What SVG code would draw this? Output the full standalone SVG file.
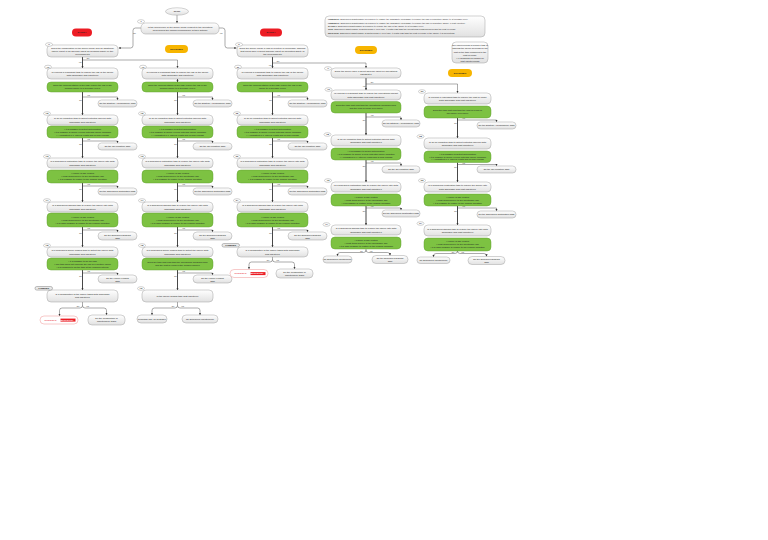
<svg xmlns="http://www.w3.org/2000/svg" width="768" height="540" viewBox="0 0 768 540">
<defs>
<linearGradient id="gb" x1="0" y1="0" x2="0" y2="1"><stop offset="0" stop-color="#ffffff"/><stop offset="1" stop-color="#e1e1e1"/></linearGradient>
<marker id="ah" viewBox="0 0 10 10" refX="10" refY="5" markerWidth="2.2" markerHeight="2.2" markerUnits="userSpaceOnUse" orient="auto"><path d="M0,0L10,5L0,10z" fill="#333"/></marker>
<style>
.box{fill:url(#gb);stroke:#9a9a9a;stroke-width:.45}
.grn{fill:#7dc242;stroke:#5d9c2c;stroke-width:.45}
.lab{fill:#fff;stroke:#8a8a8a;stroke-width:.4}
.rtag{fill:#ec1c24}
.otag{fill:#f7b500}
.rch{fill:#fff;stroke:#e88;stroke-width:.45}
text{font-family:"Liberation Sans",Arial,sans-serif;fill:#222;text-anchor:middle}
.t{font-size:2.4px}
.g{font-size:2.3px}
.s{font-size:2.3px}
.l{font-size:2px;font-weight:bold}
.tg{font-size:2.3px;font-weight:bold}
.yn{font-size:1.9px;fill:#333}
.lg{font-size:2.25px;text-anchor:start}
.rt{fill:#e8141b}
.main{fill:none;stroke:#333;stroke-width:.9;marker-end:url(#ah)}
.br{fill:none;stroke:#444;stroke-width:.45;marker-end:url(#ah)}
</style>
</defs>
<rect width="768" height="540" fill="#fff"/>

<g id="connectors">
<path class="br" d="M177,15 V23"/>
<path class="br" d="M141,28 H135.5 Q133,28 133,30.5 V45.5 Q133,48 130.5,48 H118.5"/>
<path class="br" d="M219,28 H222.5 Q225,28 225,30.5 V45.5 Q225,48 227.5,48 H236.5"/>
<path class="main" d="M82.5,57 V68"/>
<path class="br" d="M82.5,60 H177.5 V68"/>
<path class="main" d="M272.5,57 V68"/>
<path class="br" d="M272.5,63 H366 V68"/>
<path class="main" d="M366,78 V90"/>
<path class="br" d="M366,84 H457.5 V93"/>
<!-- col1 -->
<path class="main" d="M82.5,92 V115"/><path class="br" d="M82.5,97 H117.5 V100"/>
<path class="main" d="M82.5,138 V158"/><path class="br" d="M82.5,141 H117.5 V143"/>
<path class="main" d="M82.5,183 V202"/><path class="br" d="M82.5,186 H117.5 V188"/>
<path class="main" d="M82.5,227 V247"/><path class="br" d="M82.5,230 H117.5 V232"/>
<path class="main" d="M82.5,270 V290"/><path class="br" d="M82.5,273 H117.5 V275"/>
<path class="br" d="M82.5,302 V305.5 Q82.5,308 80,308 H62 Q59.5,308 59.5,310.5 V316"/>
<path class="br" d="M82.5,305.5 Q82.5,308 85,308 H104 Q106.5,308 106.5,310.5 V315"/>
<!-- col2 -->
<path class="main" d="M177.5,79 V82"/>
<path class="main" d="M177.5,92 V115"/><path class="br" d="M177.5,97 H212.5 V100"/>
<path class="main" d="M177.5,138 V158"/><path class="br" d="M177.5,141 H212.5 V143"/>
<path class="main" d="M177.5,183 V202"/><path class="br" d="M177.5,186 H212.5 V188"/>
<path class="main" d="M177.5,227 V247"/><path class="br" d="M177.5,230 H212.5 V232"/>
<path class="main" d="M177.5,270 V290"/><path class="br" d="M177.5,273 H212.5 V275"/>
<path class="br" d="M177.5,302 V305.5 Q177.5,308 175,308 H154.5 Q152,308 152,310.5 V315"/>
<path class="br" d="M177.5,305.5 Q177.5,308 180,308 H197.5 Q200,308 200,310.5 V315"/>
<!-- col3 -->
<path class="main" d="M272.5,92 V115"/><path class="br" d="M272.5,97 H307.5 V100"/>
<path class="main" d="M272.5,138 V158"/><path class="br" d="M272.5,141 H307.5 V143"/>
<path class="main" d="M272.5,183 V202"/><path class="br" d="M272.5,186 H307.5 V188"/>
<path class="main" d="M272.5,227 V247"/><path class="br" d="M272.5,230 H307.5 V232"/>
<path class="br" d="M272.5,257 V259.5 Q272.5,262 270,262 H251.5 Q249,262 249,264.5 V269"/>
<path class="br" d="M272.5,259.5 Q272.5,262 275,262 H292 Q294.5,262 294.5,264.5 V269"/>
<!-- col4 -->
<path class="main" d="M366,113 V135"/><path class="br" d="M366,117 H401 V120"/>
<path class="main" d="M366,160 V182"/><path class="br" d="M366,163 H401 V166"/>
<path class="main" d="M366,206 V225"/><path class="br" d="M366,208 H401 V210"/>
<path class="br" d="M366,249 V250 Q366,252.5 363.5,252.5 H340 Q337.5,252.5 337.5,255 V256"/>
<path class="br" d="M366,250 Q366,252.5 368.5,252.5 H387.5 Q390,252.5 390,255 V255.5"/>
<!-- col5 -->
<path class="main" d="M457.5,118 V138"/><path class="br" d="M457.5,120 H496.5 V122"/>
<path class="main" d="M457.5,162.5 V182"/><path class="br" d="M457.5,164.5 H496.5 V166"/>
<path class="main" d="M457.5,206 V225"/><path class="br" d="M457.5,208 H496.5 V211"/>
<path class="br" d="M457.5,251 Q457.5,253.5 455,253.5 H436 Q433.5,253.5 433.5,256 V257"/>
<path class="br" d="M457.5,251 Q457.5,253.5 460,253.5 H484 Q486.5,253.5 486.5,256 V256.5"/>
</g>

<g id="branch-labels">
<text class="yn" x="134.5" y="34">No</text><text class="yn" x="221" y="34">Yes</text>
<text class="yn" x="80" y="63" text-anchor="end">Yes</text><text class="yn" x="88" y="59.3">No</text>
<text class="yn" x="270" y="66" text-anchor="end">Yes</text><text class="yn" x="278" y="62.3">No</text>
<text class="yn" x="364" y="87" text-anchor="end">Yes</text><text class="yn" x="372" y="83.3">No</text>
<g id="yn-c1">
<text class="yn" x="80.5" y="100.5" text-anchor="end">No</text><text class="yn" x="88.5" y="96.3">Yes</text>
<text class="yn" x="80.5" y="144.5" text-anchor="end">No</text><text class="yn" x="88.5" y="140.3">Yes</text>
<text class="yn" x="80.5" y="189.5" text-anchor="end">No</text><text class="yn" x="88.5" y="185.3">Yes</text>
<text class="yn" x="80.5" y="233.5" text-anchor="end">No</text><text class="yn" x="88.5" y="229.3">Yes</text>
<text class="yn" x="80.5" y="276.5" text-anchor="end">No</text><text class="yn" x="88.5" y="272.3">Yes</text>
<text class="yn" x="78" y="307.3">No</text><text class="yn" x="87.5" y="307.3">Yes</text>
</g>
<g id="yn-c2">
<text class="yn" x="175.5" y="100.5" text-anchor="end">No</text><text class="yn" x="183.5" y="96.3">Yes</text>
<text class="yn" x="175.5" y="144.5" text-anchor="end">No</text><text class="yn" x="183.5" y="140.3">Yes</text>
<text class="yn" x="175.5" y="189.5" text-anchor="end">No</text><text class="yn" x="183.5" y="185.3">Yes</text>
<text class="yn" x="175.5" y="233.5" text-anchor="end">No</text><text class="yn" x="183.5" y="229.3">Yes</text>
<text class="yn" x="175.5" y="276.5" text-anchor="end">No</text><text class="yn" x="183.5" y="272.3">Yes</text>
<text class="yn" x="173" y="307.3">No</text><text class="yn" x="182.5" y="307.3">Yes</text>
</g>
<g id="yn-c3">
<text class="yn" x="270.5" y="100.5" text-anchor="end">No</text><text class="yn" x="278.5" y="96.3">Yes</text>
<text class="yn" x="270.5" y="144.5" text-anchor="end">No</text><text class="yn" x="278.5" y="140.3">Yes</text>
<text class="yn" x="270.5" y="189.5" text-anchor="end">No</text><text class="yn" x="278.5" y="185.3">Yes</text>
<text class="yn" x="270.5" y="233.5" text-anchor="end">No</text><text class="yn" x="278.5" y="229.3">Yes</text>
<text class="yn" x="268" y="261.3">No</text><text class="yn" x="277.5" y="261.3">Yes</text>
</g>
<g id="yn-c4">
<text class="yn" x="364" y="120.5" text-anchor="end">No</text><text class="yn" x="372" y="116.3">Yes</text>
<text class="yn" x="364" y="166.5" text-anchor="end">No</text><text class="yn" x="372" y="162.3">Yes</text>
<text class="yn" x="364" y="211.5" text-anchor="end">No</text><text class="yn" x="372" y="207.3">Yes</text>
<text class="yn" x="361.5" y="251.8">No</text><text class="yn" x="371" y="251.8">Yes</text>
</g>
<g id="yn-c5">
<text class="yn" x="455.5" y="123.5" text-anchor="end">No</text><text class="yn" x="463.5" y="119.3">Yes</text>
<text class="yn" x="455.5" y="168" text-anchor="end">No</text><text class="yn" x="463.5" y="163.8">Yes</text>
<text class="yn" x="455.5" y="211.5" text-anchor="end">No</text><text class="yn" x="463.5" y="207.3">Yes</text>
<text class="yn" x="453" y="252.8">No</text><text class="yn" x="462.5" y="252.8">Yes</text>
</g>
</g>

<!-- top -->
<g id="start"><ellipse class="box" cx="177" cy="11.5" rx="11.5" ry="3.7"/><text class="l" x="177" y="12.3">START</text></g>
<g id="q1"><rect class="box" x="141" y="23" width="78" height="11" rx="4.5"/><ellipse class="lab" cx="141" cy="21.5" rx="3.5" ry="1.8"/><text class="l" x="141" y="22.2">1</text>
<text class="t" x="180" y="27.6">Is the occurrence of the failure mode evident to the operating</text><text class="t" x="180" y="30.8">crew during the normal performance of their duties?</text></g>

<g id="legend"><rect class="box" x="325" y="16" width="160" height="21" rx="4"/>
<text class="lg" x="328" y="20.3"><tspan font-weight="bold">HIDDEN-S:</tspan> Scheduled maintenance is required to ensure the availability necessary to reduce the risk of a multiple failure to a tolerable level.</text>
<text class="lg" x="328" y="23.6"><tspan font-weight="bold">HIDDEN-O:</tspan> Scheduled maintenance is required to ensure the availability necessary to reduce the risk of a multiple failure, if cost-effective.</text>
<text class="lg" x="328" y="26.9"><tspan font-weight="bold">SAFETY:</tspan> Scheduled maintenance is required to reduce the risk of the failure to a tolerable level.</text>
<text class="lg" x="328" y="30.2"><tspan font-weight="bold">OPS:</tspan> Scheduled maintenance is worth doing if, over time, it costs less than the operational consequences and the cost of repair.</text>
<text class="lg" x="328" y="33.5"><tspan font-weight="bold">NON-OPS:</tspan> Scheduled maintenance is worth doing if, over time, it costs less than the cost of repair of the failure it is preventing.</text>
</g>

<g id="tags">
<rect class="rtag" x="72" y="28.5" width="20" height="8" rx="4"/><text class="tg" x="82" y="33.3">SAFETY</text>
<rect class="otag" x="165" y="45" width="23" height="8" rx="4"/><text class="tg" x="176.5" y="49.8">ECONOMIC</text>
<rect class="rtag" x="260" y="28.5" width="22" height="8" rx="4"/><text class="tg" x="271" y="33.3">SAFETY</text>
<rect class="otag" x="355" y="46" width="22" height="8" rx="4"/><text class="tg" x="366" y="50.8">ECONOMIC</text>
<rect class="otag" x="448" y="69" width="24" height="8" rx="4"/><text class="tg" x="460" y="73.8">ECONOMIC</text>
</g>

<g id="note"><rect class="box" x="452" y="42" width="36" height="21" rx="4"/>
<text class="s" x="470" y="46.3">The effectiveness of doing a task to</text>
<text class="s" x="470" y="49.4">address the failure depends on the</text>
<text class="s" x="470" y="52.5">cost of the task compared to the</text>
<text class="s" x="470" y="55.6">cost of repair.</text>
<text class="s" x="470" y="58.7">(All decisions are based on</text>
<text class="s" x="470" y="61.6">cost-effectiveness)</text>
</g>

<g id="node-H"><rect class="box" x="47" y="45" width="71" height="12" rx="4"/><ellipse class="lab" cx="49" cy="44.5" rx="3.5" ry="1.8"/><text class="l" x="49" y="45.2">H</text>
<text class="t" x="82.5" y="48.8">Does the combination of the failure mode and an additional</text><text class="t" x="82.5" y="51.8">failure result in an adverse effect on personal safety or the</text><text class="t" x="82.5" y="54.8">environment?</text></g>

<g id="node-S"><rect class="box" x="237" y="45" width="71" height="12" rx="4"/><ellipse class="lab" cx="239" cy="44.5" rx="3.5" ry="1.8"/><text class="l" x="239" y="45.2">S</text>
<text class="t" x="272.5" y="48.8">Does the failure cause a loss of function or secondary damage</text><text class="t" x="272.5" y="51.8">that could have a direct adverse effect on operating safety or</text><text class="t" x="272.5" y="54.8">the environment?</text></g>

<g id="node-O"><rect class="box" x="331" y="68" width="70" height="10" rx="4"/><ellipse class="lab" cx="328" cy="68.5" rx="3.5" ry="1.8"/><text class="l" x="328" y="69.2">O</text>
<text class="t" x="366" y="72.2">Does the failure have a direct adverse effect on operational</text><text class="t" x="366" y="75.4">capability?</text></g>

<!-- ===== Column 1 (hidden, safety) ===== -->
<g id="H1"><rect class="box" x="47" y="68" width="71" height="11" rx="4"/><ellipse class="lab" cx="48" cy="67" rx="3.5" ry="1.8"/><text class="l" x="48" y="67.7">H1</text>
<text class="t" x="82.5" y="72.6">Is running a redundant task to reduce the risk of the failure</text><text class="t" x="82.5" y="75.8">both applicable and effective?</text>
<rect class="grn" x="47" y="82" width="71" height="10" rx="4"/><text class="g" x="82.5" y="86.2">Does the implementation of the task reduce the risk of the</text><text class="g" x="82.5" y="89.4">multiple failure to a tolerable level?</text></g>
<g id="H1-do"><rect class="box" x="98" y="100" width="39" height="7" rx="3.5"/><text class="s" x="117.5" y="104.3">Do the Strategy / Redundancy Task</text></g>
<g id="H2"><rect class="box" x="47" y="115" width="71" height="10" rx="4"/><ellipse class="lab" cx="47" cy="113.5" rx="3.5" ry="1.8"/><text class="l" x="47" y="114.2">H2</text>
<text class="t" x="82.5" y="119.3">Is an on-condition task to detect potential failures both</text><text class="t" x="82.5" y="122.5">applicable and effective?</text>
<rect class="grn" x="47" y="126" width="71" height="12" rx="4"/><text class="g" x="82.5" y="129.7">* It is possible to detect deterioration</text><text class="g" x="82.5" y="132.6">* It is possible to define a clear potential failure condition</text><text class="g" x="82.5" y="135.5">* A consistent P-F interval exists and is long enough</text></g>
<g id="H2-do"><rect class="box" x="98" y="143" width="39" height="7" rx="3.5"/><text class="s" x="117.5" y="147.3">Do the On-condition Task</text></g>
<g id="H3"><rect class="box" x="47" y="158" width="71" height="10" rx="4"/><ellipse class="lab" cx="47" cy="156.5" rx="3.5" ry="1.8"/><text class="l" x="47" y="157.2">H3</text>
<text class="t" x="82.5" y="162.3">Is a scheduled restoration task to reduce the failure rate both</text><text class="t" x="82.5" y="165.5">applicable and effective?</text>
<rect class="grn" x="47" y="170" width="71" height="13" rx="4"/><text class="g" x="82.5" y="174.2">* Failure is age related</text><text class="g" x="82.5" y="177.2">* Most items survive to the identifiable age</text><text class="g" x="82.5" y="180.2">* It is possible to restore to the original condition</text></g>
<g id="H3-do"><rect class="box" x="98" y="188" width="39" height="7" rx="3.5"/><text class="s" x="117.5" y="192.3">Do the Scheduled Restoration Task</text></g>
<g id="H4"><rect class="box" x="47" y="202" width="71" height="10" rx="4"/><ellipse class="lab" cx="47" cy="200.5" rx="3.5" ry="1.8"/><text class="l" x="47" y="201.2">H4</text>
<text class="t" x="82.5" y="206.3">Is a scheduled discard task to reduce the failure rate both</text><text class="t" x="82.5" y="209.5">applicable and effective?</text>
<rect class="grn" x="47" y="213" width="71" height="14" rx="4"/><text class="g" x="82.5" y="217.6">* Failure is age related</text><text class="g" x="82.5" y="220.6">* Most items survive to the identifiable age</text><text class="g" x="82.5" y="223.6">* It is NOT possible to restore to the original condition</text></g>
<g id="H4-do"><rect class="box" x="98" y="232" width="39" height="8" rx="4"/><text class="s" x="117.5" y="235.6">Do the Scheduled Discard</text><text class="s" x="117.5" y="238.6">Task</text></g>
<g id="H5"><rect class="box" x="47" y="247" width="71" height="10" rx="4"/><ellipse class="lab" cx="47" cy="245.5" rx="3.5" ry="1.8"/><text class="l" x="47" y="246.2">H5</text>
<text class="t" x="82.5" y="251.3">Is a scheduled failure-finding task to detect the failure both</text><text class="t" x="82.5" y="254.5">applicable and effective?</text>
<rect class="grn" x="47" y="258" width="71" height="12" rx="4"/><text class="g" x="82.5" y="261.7">* It is possible to do the task</text><text class="g" x="82.5" y="264.6">* The task does not increase the risk of a multiple failure</text><text class="g" x="82.5" y="267.5">* It is practical to do the task at the required interval</text></g>
<g id="H5-do"><rect class="box" x="98" y="275" width="39" height="8" rx="4"/><text class="s" x="117.5" y="278.6">Do the Failure-Finding</text><text class="s" x="117.5" y="281.6">Task</text></g>
<g id="H6"><rect class="box" x="47" y="290" width="71" height="12" rx="4"/><rect x="35" y="286.5" width="17.5" height="3.6" rx="1.8" fill="#e9e9e9" stroke="#666" stroke-width=".4"/><text class="l" x="43.7" y="289.1">COMBINED</text>
<text class="t" x="82.5" y="295">Is a combination of the above tasks both applicable</text><text class="t" x="82.5" y="298.3">and effective?</text></g>
<g id="H6-no"><rect class="rch" x="40" y="316" width="38" height="8" rx="4"/><rect x="60.5" y="318.6" width="15" height="3" fill="#ec1c24"/><text class="s rt" x="59" y="320.7">Redesign is <tspan fill="#fff" font-weight="bold">COMPULSORY</tspan></text></g>
<g id="H6-yes"><rect class="box" x="88" y="315" width="37" height="10" rx="4"/><text class="s" x="106.5" y="319.3">Do the combination of</text><text class="s" x="106.5" y="322.4">maintenance tasks</text></g>

<!-- ===== Column 2 (hidden, economic) ===== -->
<g id="HO1"><rect class="box" x="142" y="68" width="71" height="11" rx="4"/><ellipse class="lab" cx="143" cy="67" rx="3.5" ry="1.8"/><text class="l" x="143" y="67.7">H1</text>
<text class="t" x="177.5" y="72.6">Is running a redundant task to reduce the risk of the failure</text><text class="t" x="177.5" y="75.8">both applicable and effective?</text>
<rect class="grn" x="142" y="82" width="71" height="10" rx="4"/><text class="g" x="177.5" y="86.2">Does the implementation of the task reduce the risk of the</text><text class="g" x="177.5" y="89.4">multiple failure to a tolerable level?</text></g>
<g id="HO1-do"><rect class="box" x="193" y="100" width="39" height="7" rx="3.5"/><text class="s" x="212.5" y="104.3">Do the Strategy / Redundancy Task</text></g>
<g id="HO2"><rect class="box" x="142" y="115" width="71" height="10" rx="4"/><ellipse class="lab" cx="142" cy="113.5" rx="3.5" ry="1.8"/><text class="l" x="142" y="114.2">H2</text>
<text class="t" x="177.5" y="119.3">Is an on-condition task to detect potential failures both</text><text class="t" x="177.5" y="122.5">applicable and effective?</text>
<rect class="grn" x="142" y="126" width="71" height="12" rx="4"/><text class="g" x="177.5" y="129.7">* It is possible to detect deterioration</text><text class="g" x="177.5" y="132.6">* It is possible to define a clear potential failure condition</text><text class="g" x="177.5" y="135.5">* A consistent P-F interval exists and is long enough</text></g>
<g id="HO2-do"><rect class="box" x="193" y="143" width="39" height="7" rx="3.5"/><text class="s" x="212.5" y="147.3">Do the On-condition Task</text></g>
<g id="HO3"><rect class="box" x="142" y="158" width="71" height="10" rx="4"/><ellipse class="lab" cx="142" cy="156.5" rx="3.5" ry="1.8"/><text class="l" x="142" y="157.2">H3</text>
<text class="t" x="177.5" y="162.3">Is a scheduled restoration task to reduce the failure rate both</text><text class="t" x="177.5" y="165.5">applicable and effective?</text>
<rect class="grn" x="142" y="170" width="71" height="13" rx="4"/><text class="g" x="177.5" y="174.2">* Failure is age related</text><text class="g" x="177.5" y="177.2">* Most items survive to the identifiable age</text><text class="g" x="177.5" y="180.2">* It is possible to restore to the original condition</text></g>
<g id="HO3-do"><rect class="box" x="193" y="188" width="39" height="7" rx="3.5"/><text class="s" x="212.5" y="192.3">Do the Scheduled Restoration Task</text></g>
<g id="HO4"><rect class="box" x="142" y="202" width="71" height="10" rx="4"/><ellipse class="lab" cx="142" cy="200.5" rx="3.5" ry="1.8"/><text class="l" x="142" y="201.2">H4</text>
<text class="t" x="177.5" y="206.3">Is a scheduled discard task to reduce the failure rate both</text><text class="t" x="177.5" y="209.5">applicable and effective?</text>
<rect class="grn" x="142" y="213" width="71" height="14" rx="4"/><text class="g" x="177.5" y="217.6">* Failure is age related</text><text class="g" x="177.5" y="220.6">* Most items survive to the identifiable age</text><text class="g" x="177.5" y="223.6">* It is NOT possible to restore to the original condition</text></g>
<g id="HO4-do"><rect class="box" x="193" y="232" width="39" height="8" rx="4"/><text class="s" x="212.5" y="235.6">Do the Scheduled Discard</text><text class="s" x="212.5" y="238.6">Task</text></g>
<g id="HO5"><rect class="box" x="142" y="247" width="71" height="10" rx="4"/><ellipse class="lab" cx="142" cy="245.5" rx="3.5" ry="1.8"/><text class="l" x="142" y="246.2">H5</text>
<text class="t" x="177.5" y="251.3">Is a scheduled failure-finding task to detect the failure both</text><text class="t" x="177.5" y="254.5">applicable and effective?</text>
<rect class="grn" x="142" y="258" width="71" height="12" rx="4"/><text class="g" x="177.5" y="262.6">Does the task cost less than the operational consequences</text><text class="g" x="177.5" y="265.7">and the cost of repair of the multiple failure?</text></g>
<g id="HO5-do"><rect class="box" x="193" y="275" width="39" height="8" rx="4"/><text class="s" x="212.5" y="278.6">Do the Failure-Finding</text><text class="s" x="212.5" y="281.6">Task</text></g>
<g id="HO6"><rect class="box" x="142" y="290" width="71" height="12" rx="4"/><ellipse class="lab" cx="141" cy="288.5" rx="3.5" ry="1.8"/><text class="l" x="141" y="289.2">H6</text>
<text class="t" x="177.5" y="296.6">Is the failure-finding task cost effective?</text></g>
<g id="HO6-no"><rect class="box" x="137" y="315" width="30" height="8" rx="4"/><text class="s" x="152" y="319.8">Redesign may be desirable</text></g>
<g id="HO6-yes"><rect class="box" x="182" y="315" width="36" height="8" rx="4"/><text class="s" x="200" y="319.8">No Scheduled Maintenance</text></g>

<!-- ===== Column 3 (evident, safety) ===== -->
<g id="S1"><rect class="box" x="237" y="68" width="71" height="11" rx="4"/><ellipse class="lab" cx="238" cy="67" rx="3.5" ry="1.8"/><text class="l" x="238" y="67.7">S1</text>
<text class="t" x="272.5" y="72.6">Is running a redundant task to reduce the risk of the failure</text><text class="t" x="272.5" y="75.8">both applicable and effective?</text>
<rect class="grn" x="237" y="82" width="71" height="10" rx="4"/><text class="g" x="272.5" y="86.2">Does the implementation of the task reduce the risk of the</text><text class="g" x="272.5" y="89.4">failure to a tolerable level?</text></g>
<g id="S1-do"><rect class="box" x="288" y="100" width="39" height="7" rx="3.5"/><text class="s" x="307.5" y="104.3">Do the Strategy / Redundancy Task</text></g>
<g id="S2"><rect class="box" x="237" y="115" width="71" height="10" rx="4"/><ellipse class="lab" cx="237" cy="113.5" rx="3.5" ry="1.8"/><text class="l" x="237" y="114.2">S2</text>
<text class="t" x="272.5" y="119.3">Is an on-condition task to detect potential failures both</text><text class="t" x="272.5" y="122.5">applicable and effective?</text>
<rect class="grn" x="237" y="126" width="71" height="12" rx="4"/><text class="g" x="272.5" y="129.7">* It is possible to detect deterioration</text><text class="g" x="272.5" y="132.6">* It is possible to define a clear potential failure condition</text><text class="g" x="272.5" y="135.5">* A consistent P-F interval exists and is long enough</text></g>
<g id="S2-do"><rect class="box" x="288" y="143" width="39" height="7" rx="3.5"/><text class="s" x="307.5" y="147.3">Do the On-condition Task</text></g>
<g id="S3"><rect class="box" x="237" y="158" width="71" height="10" rx="4"/><ellipse class="lab" cx="237" cy="156.5" rx="3.5" ry="1.8"/><text class="l" x="237" y="157.2">S3</text>
<text class="t" x="272.5" y="162.3">Is a scheduled restoration task to reduce the failure rate both</text><text class="t" x="272.5" y="165.5">applicable and effective?</text>
<rect class="grn" x="237" y="170" width="71" height="13" rx="4"/><text class="g" x="272.5" y="174.2">* Failure is age related</text><text class="g" x="272.5" y="177.2">* Most items survive to the identifiable age</text><text class="g" x="272.5" y="180.2">* It is possible to restore to the original condition</text></g>
<g id="S3-do"><rect class="box" x="288" y="188" width="39" height="7" rx="3.5"/><text class="s" x="307.5" y="192.3">Do the Scheduled Restoration Task</text></g>
<g id="S4"><rect class="box" x="237" y="202" width="71" height="10" rx="4"/><ellipse class="lab" cx="237" cy="200.5" rx="3.5" ry="1.8"/><text class="l" x="237" y="201.2">S4</text>
<text class="t" x="272.5" y="206.3">Is a scheduled discard task to reduce the failure rate both</text><text class="t" x="272.5" y="209.5">applicable and effective?</text>
<rect class="grn" x="237" y="213" width="71" height="14" rx="4"/><text class="g" x="272.5" y="217.6">* Failure is age related</text><text class="g" x="272.5" y="220.6">* Most items survive to the identifiable age</text><text class="g" x="272.5" y="223.6">* It is NOT possible to restore to the original condition</text></g>
<g id="S4-do"><rect class="box" x="288" y="232" width="39" height="8" rx="4"/><text class="s" x="307.5" y="235.6">Do the Scheduled Discard</text><text class="s" x="307.5" y="238.6">Task</text></g>
<g id="S5"><rect class="box" x="237" y="247" width="71" height="10" rx="4"/><rect x="222" y="243.5" width="17.5" height="3.6" rx="1.8" fill="#e9e9e9" stroke="#666" stroke-width=".4"/><text class="l" x="230.7" y="246.1">COMBINED</text>
<text class="t" x="272.5" y="251.3">Is a combination of the above tasks both applicable</text><text class="t" x="272.5" y="254.5">and effective?</text></g>
<g id="S5-no"><rect class="rch" x="230" y="269.5" width="38" height="8" rx="4"/><rect x="250.5" y="272.1" width="15" height="3" fill="#ec1c24"/><text class="s rt" x="249" y="274.2">Redesign is <tspan fill="#fff" font-weight="bold">COMPULSORY</tspan></text></g>
<g id="S5-yes"><rect class="box" x="276" y="269" width="37" height="9" rx="4"/><text class="s" x="294.5" y="272.9">Do the combination of</text><text class="s" x="294.5" y="275.9">maintenance tasks</text></g>

<!-- ===== Column 4 (operational) ===== -->
<g id="O1"><rect class="box" x="331" y="90" width="70" height="10" rx="4"/><ellipse class="lab" cx="328.5" cy="89.5" rx="3.5" ry="1.8"/><text class="l" x="328.5" y="90.2">O1</text>
<text class="t" x="366" y="94.3">Is running a redundant task to reduce the operational impact</text><text class="t" x="366" y="97.5">both applicable and cost-effective?</text>
<rect class="grn" x="331" y="101.5" width="70" height="11.5" rx="4"/><text class="g" x="366" y="106.1">Does the task cost less than the operational consequences</text><text class="g" x="366" y="109.3">and the cost of repair over time?</text></g>
<g id="O1-do"><rect class="box" x="382" y="120" width="38" height="7" rx="3.5"/><text class="s" x="401" y="124.3">Do the Strategy / Redundancy Task</text></g>
<g id="O2"><rect class="box" x="331" y="135" width="70" height="11" rx="4"/><ellipse class="lab" cx="327.5" cy="134.5" rx="3.5" ry="1.8"/><text class="l" x="327.5" y="135.2">O2</text>
<text class="t" x="366" y="139.6">Is an on-condition task to detect potential failures both</text><text class="t" x="366" y="142.8">applicable and cost-effective?</text>
<rect class="grn" x="331" y="148" width="70" height="12" rx="4"/><text class="g" x="366" y="151.7">* It is possible to detect deterioration</text><text class="g" x="366" y="154.6">* It is possible to define a clear potential failure condition</text><text class="g" x="366" y="157.5">* A consistent P-F interval exists and is long enough</text></g>
<g id="O2-do"><rect class="box" x="382" y="166" width="38" height="7" rx="3.5"/><text class="s" x="401" y="170.3">Do the On-condition Task</text></g>
<g id="O3"><rect class="box" x="331" y="182" width="70" height="10" rx="4"/><ellipse class="lab" cx="328" cy="180.5" rx="3.5" ry="1.8"/><text class="l" x="328" y="181.2">O3</text>
<text class="t" x="366" y="186.3">Is a scheduled restoration task to reduce the failure rate both</text><text class="t" x="366" y="189.5">applicable and cost-effective?</text>
<rect class="grn" x="331" y="194" width="70" height="12" rx="4"/><text class="g" x="366" y="197.7">* Failure is age related</text><text class="g" x="366" y="200.6">* Most items survive to the identifiable age</text><text class="g" x="366" y="203.5">* It is possible to restore to the original condition</text></g>
<g id="O3-do"><rect class="box" x="382" y="210" width="38" height="7" rx="3.5"/><text class="s" x="401" y="214.3">Do the Scheduled Restoration Task</text></g>
<g id="O4"><rect class="box" x="331" y="225" width="70" height="10" rx="4"/><ellipse class="lab" cx="326.5" cy="224.5" rx="3.5" ry="1.8"/><text class="l" x="326.5" y="225.2">O4</text>
<text class="t" x="366" y="229.3">Is a scheduled discard task to reduce the failure rate both</text><text class="t" x="366" y="232.5">applicable and cost-effective?</text>
<rect class="grn" x="331" y="237" width="70" height="12" rx="4"/><text class="g" x="366" y="240.7">* Failure is age related</text><text class="g" x="366" y="243.6">* Most items survive to the identifiable age</text><text class="g" x="366" y="246.5">* It is NOT possible to restore to the original condition</text></g>
<g id="O4-no"><rect class="box" x="323" y="256" width="29" height="7" rx="3.5"/><text class="s" x="337.5" y="260.2">No Scheduled Maintenance</text></g>
<g id="O4-yes"><rect class="box" x="372" y="255.5" width="36" height="8" rx="4"/><text class="s" x="390" y="259">Do the Scheduled Discard</text><text class="s" x="390" y="262">Task</text></g>

<!-- ===== Column 5 (non-operational) ===== -->
<g id="N1"><rect class="box" x="424" y="93" width="67" height="11" rx="4"/><ellipse class="lab" cx="422" cy="91.5" rx="3.5" ry="1.8"/><text class="l" x="422" y="92.2">N1</text>
<text class="t" x="457.5" y="97.5">Is running a redundant task to reduce the cost of repair</text><text class="t" x="457.5" y="100.8">both applicable and cost-effective?</text>
<rect class="grn" x="424" y="106" width="67" height="12" rx="4"/><text class="g" x="457.5" y="110.6">Does the task cost less than the cost of repair of</text><text class="g" x="457.5" y="113.8">the failure over time?</text></g>
<g id="N1-do"><rect class="box" x="477" y="122" width="39" height="7" rx="3.5"/><text class="s" x="496.5" y="126.3">Do the Strategy / Redundancy Task</text></g>
<g id="N2"><rect class="box" x="424" y="138" width="67" height="11" rx="4"/><ellipse class="lab" cx="420.5" cy="136.5" rx="3.5" ry="1.8"/><text class="l" x="420.5" y="137.2">N2</text>
<text class="t" x="457.5" y="142.5">Is an on-condition task to detect potential failures both</text><text class="t" x="457.5" y="145.8">applicable and cost-effective?</text>
<rect class="grn" x="424" y="151" width="67" height="11.5" rx="4"/><text class="g" x="457.5" y="154.6">* It is possible to detect deterioration</text><text class="g" x="457.5" y="157.5">* It is possible to define a clear potential failure condition</text><text class="g" x="457.5" y="160.4">* A consistent P-F interval exists and is long enough</text></g>
<g id="N2-do"><rect class="box" x="477" y="166" width="39" height="7" rx="3.5"/><text class="s" x="496.5" y="170.3">Do the On-condition Task</text></g>
<g id="N3"><rect class="box" x="424" y="182" width="67" height="10" rx="4"/><ellipse class="lab" cx="422" cy="180.5" rx="3.5" ry="1.8"/><text class="l" x="422" y="181.2">N3</text>
<text class="t" x="457.5" y="186.3">Is a scheduled restoration task to reduce the failure rate</text><text class="t" x="457.5" y="189.5">both applicable and cost-effective?</text>
<rect class="grn" x="424" y="194" width="67" height="12" rx="4"/><text class="g" x="457.5" y="197.7">* Failure is age related</text><text class="g" x="457.5" y="200.6">* Most items survive to the identifiable age</text><text class="g" x="457.5" y="203.5">* It is possible to restore to the original condition</text></g>
<g id="N3-do"><rect class="box" x="477" y="211" width="39" height="7" rx="3.5"/><text class="s" x="496.5" y="215.3">Do the Scheduled Restoration Task</text></g>
<g id="N4"><rect class="box" x="424" y="225" width="67" height="11" rx="4"/><ellipse class="lab" cx="420.5" cy="223.5" rx="3.5" ry="1.8"/><text class="l" x="420.5" y="224.2">N4</text>
<text class="t" x="457.5" y="229.5">Is a scheduled discard task to reduce the failure rate both</text><text class="t" x="457.5" y="232.8">applicable and cost-effective?</text>
<rect class="grn" x="424" y="238" width="67" height="13" rx="4"/><text class="g" x="457.5" y="242">* Failure is age related</text><text class="g" x="457.5" y="245">* Most items survive to the identifiable age</text><text class="g" x="457.5" y="248">* It is NOT possible to restore to the original condition</text></g>
<g id="N4-no"><rect class="box" x="417" y="257" width="33" height="6.5" rx="3.2"/><text class="s" x="433.5" y="261">No Scheduled Maintenance</text></g>
<g id="N4-yes"><rect class="box" x="468" y="256.5" width="37" height="8" rx="4"/><text class="s" x="486.5" y="260">Do the Scheduled Discard</text><text class="s" x="486.5" y="263">Task</text></g>
</svg>
